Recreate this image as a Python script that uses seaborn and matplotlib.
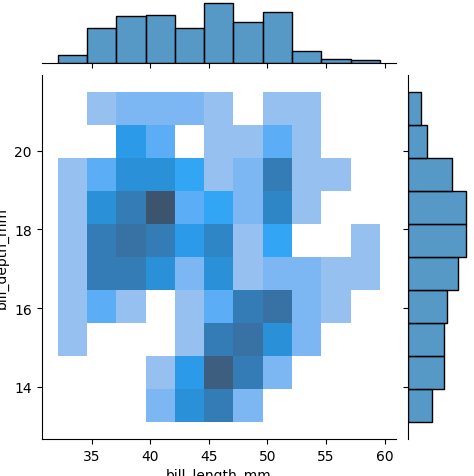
import numpy as np
import pandas as pd
import seaborn as sns
import matplotlib.pyplot as plt

# bin edges
x_edges = np.linspace(32.1, 59.6, 12)
y_edges = np.linspace(13.1, 21.5, 11)

# counts per cell, rows from top (deepest bill) to bottom, 11 columns each
counts_top_down = [
    [0, 1, 2, 2, 2, 1, 0, 1, 1, 0, 0],
    [0, 0, 5, 3, 0, 1, 1, 3, 1, 0, 0],
    [1, 3, 6, 6, 4, 1, 2, 8, 1, 1, 0],
    [1, 6, 8, 12, 3, 4, 2, 7, 1, 0, 0],
    [1, 8, 9, 8, 5, 7, 1, 4, 0, 0, 1],
    [1, 8, 8, 6, 2, 6, 1, 2, 2, 1, 1],
    [1, 3, 1, 0, 1, 3, 8, 9, 2, 1, 0],
    [1, 0, 0, 0, 1, 8, 9, 6, 2, 0, 0],
    [0, 0, 0, 1, 5, 11, 8, 2, 0, 0, 0],
    [0, 0, 0, 2, 6, 8, 2, 0, 0, 0, 0],
]

x_mid = (x_edges[:-1] + x_edges[1:]) / 2
y_mid = (y_edges[:-1] + y_edges[1:]) / 2
counts = np.array(counts_top_down[::-1])  # bottom row first

xs, ys = [], []
for i, yv in enumerate(y_mid):
    for j, xv in enumerate(x_mid):
        xs += [xv] * counts[i, j]
        ys += [yv] * counts[i, j]
df = pd.DataFrame({"bill_length_mm": xs, "bill_depth_mm": ys})

g = sns.jointplot(data=df, x="bill_length_mm", y="bill_depth_mm", kind="hist",
                  height=4.75, joint_kws={"bins": [x_edges, y_edges]},
                  marginal_kws={"bins": 11})
g.ax_marg_x.cla()
g.ax_marg_y.cla()
sns.histplot(x=df["bill_length_mm"], bins=x_edges, ax=g.ax_marg_x, edgecolor="black")
sns.histplot(y=df["bill_depth_mm"], bins=y_edges, ax=g.ax_marg_y, edgecolor="black")
for ax in (g.ax_marg_x, g.ax_marg_y):
    ax.set_xlabel("")
    ax.set_ylabel("")
g.ax_marg_x.tick_params(labelbottom=False, labelleft=False, left=False)
g.ax_marg_y.tick_params(labelleft=False, labelbottom=False, bottom=False)
sns.despine(ax=g.ax_marg_x, left=True)
sns.despine(ax=g.ax_marg_y, bottom=True)
g.ax_joint.set_xticks([35, 40, 45, 50, 55, 60])
g.ax_joint.set_yticks([14, 16, 18, 20])
g.fig.set_size_inches(4.74, 4.77)
g.fig.subplots_adjust(left=0.088, right=0.99, bottom=0.078, top=0.998)
g.fig.savefig("out.png", dpi=100)
